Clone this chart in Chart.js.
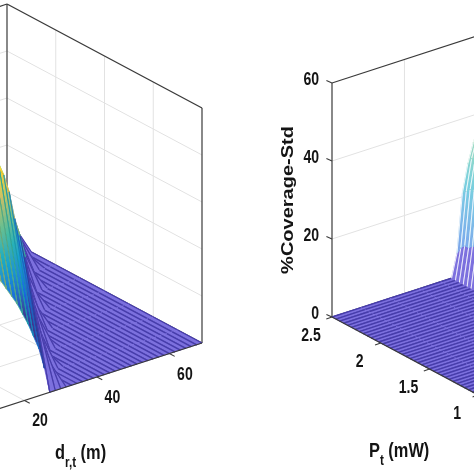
<!DOCTYPE html>
<html>
<head>
<meta charset="utf-8">
<script src="https://cdn.jsdelivr.net/npm/chart.js@4.4.1/dist/chart.umd.min.js"></script>
<style>
  html, body { margin: 0; padding: 0; background: #fff; }
  #wrap { width: 474px; height: 474px; }
</style>
</head>
<body>
<div id="wrap"><canvas id="surf" width="474" height="474"></canvas></div>
<script>
// axis ticks
const dTicks = [20, 40, 60];
const pTicks = [2.5, 2, 1.5, 1];
const zTicksMean = [0, 20, 40, 60, 80, 100];
const zTicksStd = [0, 20, 40, 60];
const dRange = [0, 69];
const pRange = [0.5, 2.5];

// left surface: %coverage (mean), lines of constant d_r,t
const meanD = [12, 13.5, 15, 16.5, 18, 19.5, 21, 22.5, 24, 25.5, 27, 28.5, 30, 31.5, 33, 34.5, 36, 37.5, 39, 40.5,
               42, 43.5, 45, 46.5, 48, 49.5, 51, 52.5, 54, 55.5, 57, 58.5, 60, 61.5, 63, 64.5, 66, 67.5, 69];
const meanP = [0.5, 0.75, 1.0, 1.25, 1.5, 1.75, 2.0, 2.25, 2.5];
const meanZ = [
  [57,54,50,46,42,37,32,26,20,11, 0,0,0,0,0,0,0,0,0,0, 0,0,0,0,0,0,0,0,0,0, 0,0,0,0,0,0,0,0,0],
  [100,100,100,100,99,96,90,82,70,62, 52,36,22,10,0,0,0,0,0,0, 0,0,0,0,0,0,0,0,0,0, 0,0,0,0,0,0,0,0,0],
  [100,100,100,100,100,99,97,94,90,85, 78,70,60,50,40,28,16,4,0,0, 0,0,0,0,0,0,0,0,0,0, 0,0,0,0,0,0,0,0,0],
  [100,100,100,100,100,100,100,98,96,93, 89,84,78,71,64,57,50,43,35,25, 14,2,0,0,0,0,0,0,0,0, 0,0,0,0,0,0,0,0,0],
  [100,100,100,100,100,100,100,100,100,100, 100,98,96,93,89,84,78,72,65,58, 50,41,31,20,9,0,0,0,0,0, 0,0,0,0,0,0,0,0,0],
  [100,100,100,100,100,100,100,100,100,100, 100,100,100,98,96,93,90,86,81,76, 70,64,57,50,42,34,26,17,7,0, 0,0,0,0,0,0,0,0,0],
  [100,100,100,100,100,100,100,100,100,100, 100,100,100,100,100,100,100,98,96,93, 90,86,82,77,72,66,60,51,44,35, 26,17,7,0,0,0,0,0,0],
  [100,100,100,100,100,100,100,100,100,100, 100,100,100,100,100,100,100,100,100,100, 100,100,98,95,91,86,80,73,65,57, 49,42,35,28,20,12,3,0,0],
  [100,100,100,100,100,100,100,100,100,100, 100,100,100,100,100,100,100,100,100,100, 100,100,100,100,100,100,95,88,80,72, 64,56,48,41,34,27,20,14,10]
];

// right surface: %coverage std, lines of constant P_t
const stdD = [0, 8, 16, 24, 30, 33, 34.5, 36, 37.5, 39, 40.5, 42];
const stdP = [1.02, 1.06, 1.1, 1.14, 1.18, 1.22, 1.26, 1.3, 1.34, 1.38, 1.42, 1.46, 1.5, 1.54, 1.58, 1.62,
              1.66, 1.7, 1.74, 1.78, 1.82, 1.86, 1.9, 1.94, 1.98, 2.02, 2.06, 2.1, 2.14, 2.18, 2.22, 2.26,
              2.3, 2.34, 2.38, 2.42, 2.46, 2.5];
const stdZ = [
  [0,0,0,0,0,0,12,28,37,43,47,50], [0,0,0,0,0,0,12,28,37,43,47,50], [0,0,0,0,0,0,12,28,37,43,47,50],
  [0,0,0,0,0,0,12,28,37,43,47,50], [0,0,0,0,0,0,12,28,36,42,46,49], [0,0,0,0,0,0,12,28,36,42,46,49],
  [0,0,0,0,0,0,12,27,36,42,46,49], [0,0,0,0,0,0,12,27,36,42,46,49], [0,0,0,0,0,0,12,27,36,42,46,49],
  [0,0,0,0,0,0,12,27,36,42,46,49], [0,0,0,0,0,0,12,27,36,42,46,49], [0,0,0,0,0,0,11,27,36,42,46,49],
  [0,0,0,0,0,0,11,27,35,41,45,48], [0,0,0,0,0,0,11,27,35,41,45,48], [0,0,0,0,0,0,11,27,35,41,45,48],
  [0,0,0,0,0,0,11,27,35,41,45,48], [0,0,0,0,0,0,11,26,35,41,45,48], [0,0,0,0,0,0,11,26,35,41,45,48],
  [0,0,0,0,0,0,11,26,35,41,45,48], [0,0,0,0,0,0,11,26,35,41,45,48], [0,0,0,0,0,0,11,26,35,41,45,48],
  [0,0,0,0,0,0,11,26,35,41,45,48], [0,0,0,0,0,0,11,26,35,41,45,48], [0,0,0,0,0,0,11,26,34,40,44,47],
  [0,0,0,0,0,0,11,26,34,40,44,47], [0,0,0,0,0,0,11,26,34,40,44,47], [0,0,0,0,0,0,11,26,34,40,44,47],
  [0,0,0,0,0,0,11,25,34,40,44,47], [0,0,0,0,0,0,11,25,34,40,44,47], [0,0,0,0,0,0,10,25,34,40,44,47],
  [0,0,0,0,0,0,10,25,33,39,43,46], [0,0,0,0,0,0,10,25,33,39,43,46],
  [0,0,0,0,0,0,10,25,33,39,43,46],
  [0,0,0,0,0,0,10,24,32,38,42,45],
  [0,0,0,0,0,0,9,23,31,37,41,44],
  [0,0,0,0,0,0,9,23,31,36,40,43],
  [0,0,0,0,0,0,8,22,30,35,39,42],
  [0,0,0,0,0,0,6,21,28,33,37,40]
];

const W = 474;
const SQUISH = 0.78;
const FONT = '"Liberation Sans", Arial, Helvetica, sans-serif';
const FLOOR_RGB = [124, 112, 222];
const FLOOR_LINE = 'rgb(70,60,170)';
const GRID = 'rgb(226,226,226)';
const BOX = 'rgb(58,58,58)';
const PARULA = [[53,42,135],[15,92,221],[20,129,214],[6,164,202],[46,183,164],
                [135,191,119],[209,187,89],[254,200,50],[249,251,14]];

// both panels share the same view, only the origin and the z scale differ
const leftPanel  = { ox: -48, oy: 424, zTop: 100, zPx: 235, cmin: 35, cmax: 100, wash: 0.05, mesh: 'd', zTicks: zTicksMean };
const rightPanel = { ox: 527, oy: 421, zTop: 60,  zPx: 234, cmin: 0,  cmax: 60,  wash: 0.45, mesh: 'p', zTicks: zTicksStd };

const gctx = document.createElement('canvas').getContext('2d');

function proj(panel, d, p, z) {
  const u = (d - dRange[0]) / (dRange[1] - dRange[0]);
  const v = (p - pRange[0]) / (pRange[1] - pRange[0]);
  const w = z / panel.zTop;
  return {
    x: panel.ox + 250 * u - 195 * v,
    y: panel.oy - 81 * u - 104 * v - panel.zPx * w,
    depth: -177 * u - 228 * v + 107 * w
  };
}

function parula(t) {
  t = Math.max(0, Math.min(1, t));
  const n = PARULA.length - 1;
  const f = t * n;
  const i = Math.min(n - 1, Math.floor(f));
  const r = f - i;
  return PARULA[i].map((c, j) => c + (PARULA[i + 1][j] - c) * r);
}
function css(c, dark = 1) {
  return 'rgb(' + c.map(v => Math.round(v * dark)).join(',') + ')';
}
function zColor(panel, z) {
  if (z <= 0) return FLOOR_RGB;
  const c = parula((z - panel.cmin) / (panel.cmax - panel.cmin));
  return c.map(v => v + (255 - v) * panel.wash);
}
const mid = (a, b) => ({ x: (a.x + b.x) / 2, y: (a.y + b.y) / 2 });

function lineDataset(pts, color, width) {
  return { data: pts, borderColor: color, borderWidth: width, fill: false, pointRadius: 0, tension: 0 };
}
function polyDataset(verts, fillStyle, edgeColor) {
  const pts = verts.map(v => ({ x: v.x, y: v.y }));
  pts.push(pts[0]);
  return { data: pts, borderColor: edgeColor, backgroundColor: fillStyle, borderWidth: 0.8, fill: 'shape', pointRadius: 0, tension: 0 };
}
function seg(panel, a, b, color, width) {
  const p = proj(panel, ...a), q = proj(panel, ...b);
  return lineDataset([{ x: p.x, y: p.y }, { x: q.x, y: q.y }], color, width);
}

// interpolated shading of a quad: gradient across its steepest direction
function shadedQuad(panel, verts) {
  const zs = verts.map(v => v.z);
  const rowA = (zs[0] + zs[1]) / 2, rowB = (zs[2] + zs[3]) / 2;
  const colA = (zs[0] + zs[3]) / 2, colB = (zs[1] + zs[2]) / 2;
  let a, b, za, zb;
  if (Math.abs(rowB - rowA) >= Math.abs(colB - colA)) {
    a = mid(verts[0], verts[1]); b = mid(verts[2], verts[3]); za = rowA; zb = rowB;
  } else {
    a = mid(verts[0], verts[3]); b = mid(verts[1], verts[2]); za = colA; zb = colB;
  }
  const g = gctx.createLinearGradient(a.x, a.y, b.x, b.y);
  for (let s = 0; s <= 4; s++) {
    const t = s / 4;
    g.addColorStop(t, css(zColor(panel, za + (zb - za) * t)));
  }
  return polyDataset(verts, g, css(zColor(panel, (za + zb) / 2)));
}

function buildSurface(panel, dArr, pArr, zRows) {
  const items = [];
  for (let i = 0; i < pArr.length - 1; i++) {
    for (let k = 0; k < dArr.length - 1; k++) {
      const idx = [[i, k], [i, k + 1], [i + 1, k + 1], [i + 1, k]];
      const verts = idx.map(([ii, kk]) => Object.assign({ z: zRows[ii][kk] }, proj(panel, dArr[kk], pArr[ii], zRows[ii][kk])));
      const xs = verts.map(v => v.x), ys = verts.map(v => v.y);
      if (Math.max(...xs) < -4 || Math.min(...xs) > W + 4 || Math.max(...ys) < -4 || Math.min(...ys) > W + 4) continue;
      const zeros = verts.filter(v => v.z === 0).length;
      const depth = verts.reduce((a, v) => a + v.depth, 0) / 4;
      const sets = [];
      const floorFill = css(FLOOR_RGB);
      if (zeros >= 2) {
        sets.push(polyDataset(verts, floorFill, floorFill));
      } else if (zeros === 1) {
        // split off the corner that touches the floor
        const zi = verts.findIndex(v => v.z === 0);
        const prev = verts[(zi + 3) % 4], next = verts[(zi + 1) % 4], opp = verts[(zi + 2) % 4];
        sets.push(polyDataset([prev, verts[zi], next], floorFill, floorFill));
        const zc = (prev.z + next.z + opp.z) / 3;
        const c = css(zColor(panel, zc));
        sets.push(polyDataset([prev, next, opp], c, c));
      } else {
        sets.push(shadedQuad(panel, verts));
      }
      const edges = panel.mesh === 'd' ? [[1, 2], [3, 0]] : [[0, 1], [2, 3]];
      edges.forEach(([a, b]) => {
        const va = verts[a], vb = verts[b];
        let color, width;
        if (va.z === 0 && vb.z === 0) { color = FLOOR_LINE; width = 1.4; }
        else if (panel.mesh === 'p') { color = 'rgba(255,255,255,0.85)'; width = 1; }
        else if (zeros >= 1) { color = FLOOR_LINE; width = 1.2; }
        else { color = css(zColor(panel, (va.z + vb.z) / 2), 0.8); width = 0.6; }
        sets.push(lineDataset([{ x: va.x, y: va.y }, { x: vb.x, y: vb.y }], color, width));
      });
      items.push({ depth, sets });
    }
  }
  items.sort((a, b) => a.depth - b.depth);
  return items.flatMap(it => it.sets);
}

function frame(panel) {
  const [d0, d1] = dRange, [p0, p1] = pRange, zt = panel.zTop;
  const inner = pTicks.filter(p => p > p0 && p < p1);
  const back = [];
  inner.forEach(p => back.push(seg(panel, [d0, p, 0], [d1, p, 0], GRID, 1)));
  dTicks.forEach(d => back.push(seg(panel, [d, p0, 0], [d, p1, 0], GRID, 1)));
  dTicks.forEach(d => back.push(seg(panel, [d, p1, 0], [d, p1, zt], GRID, 1)));
  inner.forEach(p => back.push(seg(panel, [d1, p, 0], [d1, p, zt], GRID, 1)));
  panel.zTicks.filter(z => z > 0 && z < zt).forEach(z => {
    back.push(seg(panel, [d0, p1, z], [d1, p1, z], GRID, 1));
    back.push(seg(panel, [d1, p1, z], [d1, p0, z], GRID, 1));
  });
  [[d0, p1], [d1, p1], [d1, p0]].forEach(([d, p]) => back.push(seg(panel, [d, p, 0], [d, p, zt], BOX, 1.2)));
  back.push(seg(panel, [d0, p1, zt], [d1, p1, zt], BOX, 1.2));
  back.push(seg(panel, [d1, p1, zt], [d1, p0, zt], BOX, 1.2));
  back.push(seg(panel, [d0, p1, 0], [d1, p1, 0], BOX, 1.2));
  back.push(seg(panel, [d1, p1, 0], [d1, p0, 0], BOX, 1.2));

  const front = [seg(panel, [d0, p0, 0], [d1, p0, 0], BOX, 1.2), seg(panel, [d0, p1, 0], [d0, p0, 0], BOX, 1.2)];
  const tick = (p, dx, dy) => lineDataset([{ x: p.x, y: p.y }, { x: p.x + dx, y: p.y + dy }], BOX, 1.1);
  dTicks.forEach(d => front.push(tick(proj(panel, d, p0, 0), 5.3, 2.8)));
  pTicks.forEach(p => front.push(tick(proj(panel, d0, p, 0), -5.7, 1.9)));
  panel.zTicks.forEach(z => front.push(tick(proj(panel, d0, p1, z), -5.6, -2.4)));
  return { back, front };
}

const ordered = [];
[[leftPanel, meanD, meanP, meanZ], [rightPanel, stdD, stdP, stdZ]].forEach(([panel, dA, pA, zA]) => {
  const f = frame(panel);
  ordered.push(...f.back, ...buildSurface(panel, dA, pA, zA), ...f.front);
});
// chart.js draws the first dataset on top, so hand them over front-to-back
const datasets = ordered.reverse();

function txt(ctx, s, x, y, size, align, base, rot) {
  ctx.save();
  ctx.translate(x, y);
  ctx.scale(SQUISH, 1);
  if (rot) ctx.rotate(rot);
  ctx.font = 'bold ' + size + 'px ' + FONT;
  ctx.fillStyle = '#141414';
  ctx.textAlign = align;
  ctx.textBaseline = base;
  ctx.fillText(s, 0, 0);
  ctx.restore();
}
function txtWidth(ctx, s, size) {
  ctx.save();
  ctx.font = 'bold ' + size + 'px ' + FONT;
  const w = ctx.measureText(s).width * SQUISH;
  ctx.restore();
  return w;
}
function subTitle(ctx, main, sub, rest, x, y) {
  txt(ctx, main, x, y, 21, 'left', 'alphabetic');
  let cx = x + txtWidth(ctx, main, 21);
  txt(ctx, sub, cx, y + 8, 15, 'left', 'alphabetic');
  cx += txtWidth(ctx, sub, 15);
  txt(ctx, rest, cx, y, 21, 'left', 'alphabetic');
}

const axisText = {
  id: 'axisText',
  afterDatasetsDraw(chart) {
    const { ctx } = chart;
    const sx = chart.scales.x, sy = chart.scales.y;
    const at = p => ({ x: sx.getPixelForValue(p.x), y: sy.getPixelForValue(p.y) });
    [leftPanel, rightPanel].forEach(panel => {
      dTicks.forEach(d => {
        const p = at(proj(panel, d, pRange[0], 0));
        txt(ctx, String(d), p.x + 15.5, p.y + 21, 18, 'center', 'middle');
      });
      pTicks.forEach(v => {
        const p = at(proj(panel, dRange[0], v, 0));
        txt(ctx, String(v), p.x - 21, p.y + 19, 18, 'center', 'middle');
      });
      panel.zTicks.forEach(z => {
        const p = at(proj(panel, dRange[0], pRange[1], z));
        txt(ctx, String(z), p.x - 13, p.y - 3, 18, 'right', 'middle');
      });
    });
    subTitle(ctx, 'd', 'r,t', ' (m)', sx.getPixelForValue(55), sy.getPixelForValue(459));
    subTitle(ctx, 'P', 't', ' (mW)', sx.getPixelForValue(369), sy.getPixelForValue(457));
    txt(ctx, '%Coverage-Std', sx.getPixelForValue(289), sy.getPixelForValue(200), 20, 'center', 'middle', -Math.PI / 2);
  }
};

new Chart(document.getElementById('surf'), {
  type: 'line',
  data: { datasets },
  options: {
    responsive: false,
    animation: false,
    events: [],
    layout: { padding: 0 },
    spanGaps: false,
    scales: {
      x: { type: 'linear', min: 0, max: W, display: false },
      y: { type: 'linear', min: 0, max: W, reverse: true, display: false }
    },
    plugins: { legend: { display: false }, tooltip: { enabled: false } },
    elements: { point: { radius: 0 }, line: { borderJoinStyle: 'round' } }
  },
  plugins: [axisText]
});
</script>
</body>
</html>
